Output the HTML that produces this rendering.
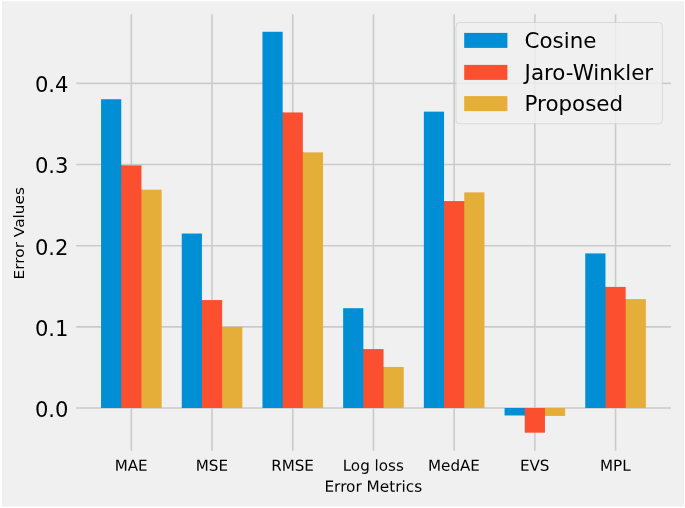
<!DOCTYPE html>
<html><head><meta charset="utf-8"><title>Error Metrics</title>
<style>
html,body{margin:0;padding:0;background:#fff;}
body{width:685px;height:508px;overflow:hidden;}
svg{display:block;}
text{font-family:"DejaVu Sans","Liberation Sans",sans-serif;fill:#000;}
</style></head><body>
<svg width="685" height="508" viewBox="0 0 685 508">
<rect x="0" y="0" width="685" height="508" fill="#ffffff"/>
<rect x="1.9" y="1.2" width="682.1" height="505.3" fill="#f0f0f0"/>

<g stroke="#cbcbcb" stroke-width="1.6" fill="none">
<line x1="131.35" y1="14.3" x2="131.35" y2="450.7"/>
<line x1="212.05" y1="14.3" x2="212.05" y2="450.7"/>
<line x1="292.75" y1="14.3" x2="292.75" y2="450.7"/>
<line x1="373.45" y1="14.3" x2="373.45" y2="450.7"/>
<line x1="454.15" y1="14.3" x2="454.15" y2="450.7"/>
<line x1="534.85" y1="14.3" x2="534.85" y2="450.7"/>
<line x1="615.55" y1="14.3" x2="615.55" y2="450.7"/>
<line x1="76.2" y1="408.00" x2="671.0" y2="408.00"/>
<line x1="76.2" y1="326.85" x2="671.0" y2="326.85"/>
<line x1="76.2" y1="245.70" x2="671.0" y2="245.70"/>
<line x1="76.2" y1="164.55" x2="671.0" y2="164.55"/>
<line x1="76.2" y1="83.40" x2="671.0" y2="83.40"/>
</g>
<rect x="101.05" y="99.22" width="20.20" height="308.78" fill="#008fd5"/>
<rect x="120.25" y="165.36" width="2" height="242.64" fill="#008fd5"/>
<rect x="121.25" y="165.36" width="20.20" height="242.64" fill="#fc4f30"/>
<rect x="140.45" y="189.71" width="2" height="218.29" fill="#fc4f30"/>
<rect x="141.45" y="189.71" width="20.20" height="218.29" fill="#e5ae38"/>
<rect x="181.75" y="233.53" width="20.20" height="174.47" fill="#008fd5"/>
<rect x="200.95" y="300.07" width="2" height="107.93" fill="#008fd5"/>
<rect x="201.95" y="300.07" width="20.20" height="107.93" fill="#fc4f30"/>
<rect x="221.15" y="326.85" width="2" height="81.15" fill="#fc4f30"/>
<rect x="222.15" y="326.85" width="20.20" height="81.15" fill="#e5ae38"/>
<rect x="262.45" y="31.79" width="20.20" height="376.21" fill="#008fd5"/>
<rect x="281.65" y="112.45" width="2" height="295.55" fill="#008fd5"/>
<rect x="282.65" y="112.45" width="20.20" height="295.55" fill="#fc4f30"/>
<rect x="301.85" y="152.38" width="2" height="255.62" fill="#fc4f30"/>
<rect x="302.85" y="152.38" width="20.20" height="255.62" fill="#e5ae38"/>
<rect x="343.15" y="308.19" width="20.20" height="99.81" fill="#008fd5"/>
<rect x="362.35" y="349.09" width="2" height="58.91" fill="#008fd5"/>
<rect x="363.35" y="349.09" width="20.20" height="58.91" fill="#fc4f30"/>
<rect x="382.55" y="366.94" width="2" height="41.06" fill="#fc4f30"/>
<rect x="383.55" y="366.94" width="20.20" height="41.06" fill="#e5ae38"/>
<rect x="423.85" y="111.64" width="20.20" height="296.36" fill="#008fd5"/>
<rect x="443.05" y="201.07" width="2" height="206.93" fill="#008fd5"/>
<rect x="444.05" y="201.07" width="20.20" height="206.93" fill="#fc4f30"/>
<rect x="463.25" y="201.07" width="2" height="206.93" fill="#fc4f30"/>
<rect x="464.25" y="192.38" width="20.20" height="215.62" fill="#e5ae38"/>
<rect x="504.55" y="408.00" width="20.20" height="7.47" fill="#008fd5"/>
<rect x="523.75" y="408.00" width="2" height="7.47" fill="#008fd5"/>
<rect x="524.75" y="408.00" width="20.20" height="24.67" fill="#fc4f30"/>
<rect x="543.95" y="408.00" width="2" height="7.95" fill="#fc4f30"/>
<rect x="544.95" y="408.00" width="20.20" height="7.95" fill="#e5ae38"/>
<rect x="585.25" y="253.41" width="20.20" height="154.59" fill="#008fd5"/>
<rect x="604.45" y="286.92" width="2" height="121.08" fill="#008fd5"/>
<rect x="605.45" y="286.92" width="20.20" height="121.08" fill="#fc4f30"/>
<rect x="624.65" y="299.10" width="2" height="108.90" fill="#fc4f30"/>
<rect x="625.65" y="299.10" width="20.20" height="108.90" fill="#e5ae38"/>
<text x="68.45" y="417.09" font-size="21.1" text-anchor="end">0.0</text>
<text x="68.45" y="335.94" font-size="21.1" text-anchor="end">0.1</text>
<text x="68.45" y="254.69" font-size="21.1" text-anchor="end">0.2</text>
<text x="68.45" y="173.49" font-size="21.1" text-anchor="end">0.3</text>
<text x="68.45" y="92.04" font-size="21.1" text-anchor="end">0.4</text>
<text transform="translate(131.15,470.7) rotate(0.05) scale(1,1.0)" font-size="15.15" text-anchor="middle">MAE</text>
<text transform="translate(211.85,470.7) rotate(0.05) scale(1,1.0)" font-size="15.15" text-anchor="middle">MSE</text>
<text transform="translate(292.55,470.7) rotate(0.05) scale(1,1.0)" font-size="15.15" text-anchor="middle">RMSE</text>
<text transform="translate(373.25,470.7) rotate(0.05) scale(1,1.0)" font-size="15.15" text-anchor="middle">Log loss</text>
<text transform="translate(453.95,470.7) rotate(0.05) scale(1,1.0)" font-size="15.15" text-anchor="middle">MedAE</text>
<text transform="translate(534.65,470.7) rotate(0.05) scale(1,1.0)" font-size="15.15" text-anchor="middle">EVS</text>
<text transform="translate(615.35,470.7) rotate(0.05) scale(1,1.0)" font-size="15.15" text-anchor="middle">MPL</text>
<text transform="translate(373.3,491.7) rotate(0.05) scale(1,1.0)" font-size="15.3" text-anchor="middle">Error Metrics</text>
<text transform="translate(24.4,233.2) rotate(-90) scale(1,0.95)" font-size="15.35" text-anchor="middle">Error Values</text>
<rect x="456" y="22.5" width="206.3" height="101.3" rx="3.5" ry="3.5" fill="#f0f0f0" fill-opacity="0.8" stroke="#cccccc" stroke-opacity="0.65" stroke-width="1"/>
<rect x="464.2" y="32.90" width="43.2" height="15.0" fill="#008fd5"/>
<text x="524.6" y="47.90" font-size="21.4">Cosine</text>
<rect x="464.2" y="64.90" width="43.2" height="15.0" fill="#fc4f30"/>
<text x="524.6" y="80.00" font-size="21.4">Jaro-Winkler</text>
<rect x="464.2" y="96.10" width="43.2" height="15.0" fill="#e5ae38"/>
<text x="524.6" y="111.30" font-size="21.4">Proposed</text>
</svg></body></html>
